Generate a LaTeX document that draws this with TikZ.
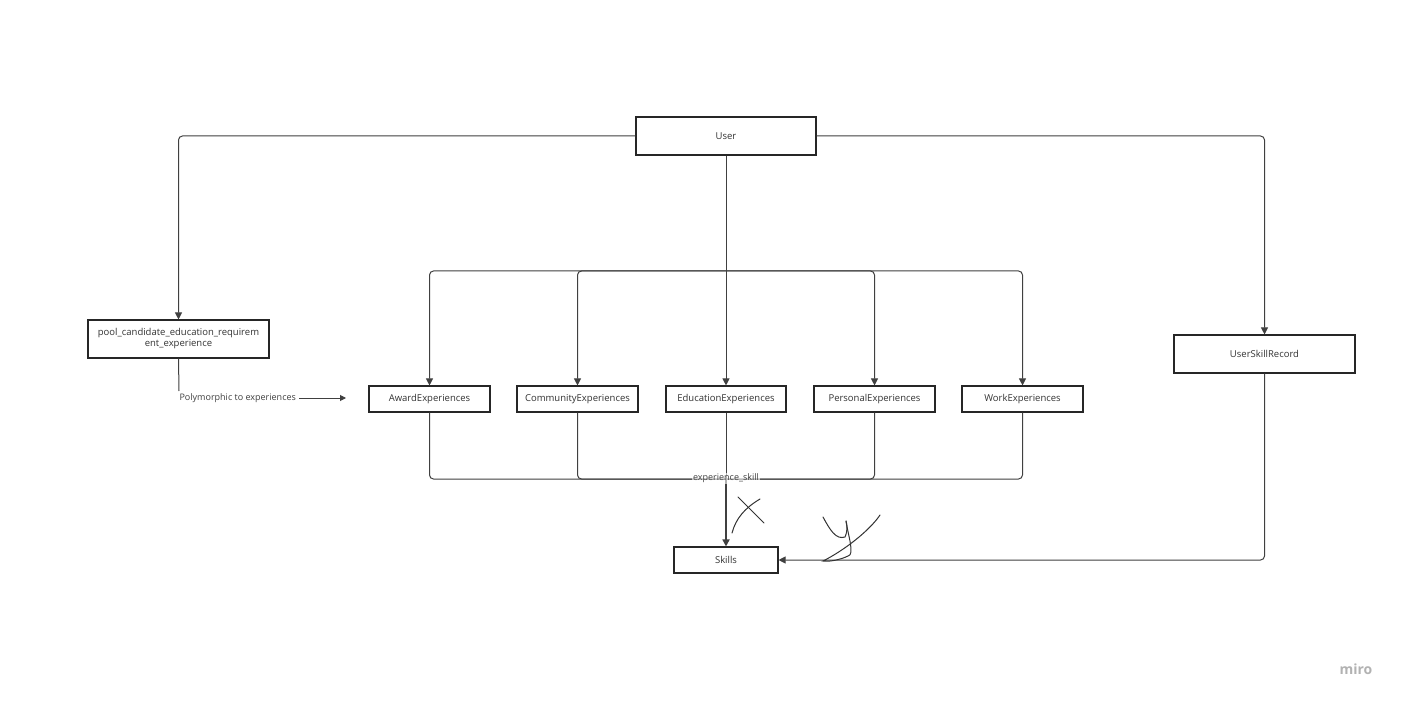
\documentclass[tikz,border=0pt]{standalone}
\usepackage{fontspec}
\setmainfont{Open Sans}
\usetikzlibrary{arrows.meta}
\begin{document}
\begin{tikzpicture}[x=1pt,y=-1pt,
  box/.style={draw=black!85,line width=1.1pt,minimum height=26pt,inner sep=0pt,font=\fontsize{9.5}{11}\selectfont,text=black!80},
  conn/.style={draw=black!75,line width=1pt,rounded corners=4pt},
  arr/.style={conn,-{Triangle[length=7pt,width=7pt]}},
  lbl/.style={font=\fontsize{9}{11}\selectfont,text=black!75}]
\useasboundingbox[fill=white] (0,0) rectangle (1410,708);
\node[box,minimum width=180pt,minimum height=38pt] (user) at (726,136) {User};
\node[box,minimum width=181pt,minimum height=38pt,align=center] (pool) at (178.5,339) {pool\_candidate\_education\_requirem\\ent\_experience};
\node[box,minimum width=181pt,minimum height=38pt] (usr) at (1264.5,354) {UserSkillRecord};
\node[box,minimum width=121pt] (aw) at (429.5,399) {AwardExperiences};
\node[box,minimum width=121pt] (co) at (577.5,399) {CommunityExperiences};
\node[box,minimum width=120pt] (ed) at (726,399) {EducationExperiences};
\node[box,minimum width=121pt] (pe) at (874.5,399) {PersonalExperiences};
\node[box,minimum width=121pt] (wo) at (1022.5,399) {WorkExperiences};
\node[box,minimum width=104pt] (sk) at (726,560) {Skills};
\coordinate (hub) at (726,271);
\coordinate (bot) at (726,479);
\draw[arr] (user.west) -| (pool.north);
\draw[arr] (user.east) -| (usr.north);
\draw[conn] (user.south) -- (hub);
\foreach \n in {aw,co,ed,pe,wo}{
  \draw[arr] (hub) -| (\n.north);
  \draw[conn] (\n.south) |- (bot);
}
\draw[arr,line width=1.6pt] (bot) -- (sk.north);
\node[lbl,fill=white,fill opacity=0.6,text opacity=1,inner sep=1pt] (es) at (726,478) {experience\_skill};
\draw[arr] (usr.south) |- (sk.east);
\coordinate (pb) at (179,391);
\draw[conn] (pool.south) -- (pb);
\node[lbl,anchor=west] (poly) at (176,398) {Polymorphic to experiences};
\coordinate (pe2) at (346,398);
\draw[draw=black!75,line width=1pt,-{Triangle[length=6pt,width=6pt]}] (poly.east) -- (pe2);
% hand drawn marks
\draw[black!80,line width=1pt,line cap=round] (738,497) -- (764,523);
\draw[black!80,line width=1pt,line cap=round] (760,499) .. controls (745,508) and (736,518) .. (732,533);
\draw[black!80,line width=1pt,line cap=round] (823,517) .. controls (830,530) and (836,540) .. (845,537) .. controls (848,530) and (847,525) .. (846,521);
\draw[black!80,line width=1pt,line cap=round] (846,521) .. controls (848,535) and (855,555) .. (848,556) .. controls (840,560) and (828,562) .. (823,561) .. controls (845,550) and (870,530) .. (880,515);
\node[font=\fontsize{14}{16}\selectfont\bfseries,text=black!30] (miro) at (1356,669) {miro};
\end{tikzpicture}
\end{document}
